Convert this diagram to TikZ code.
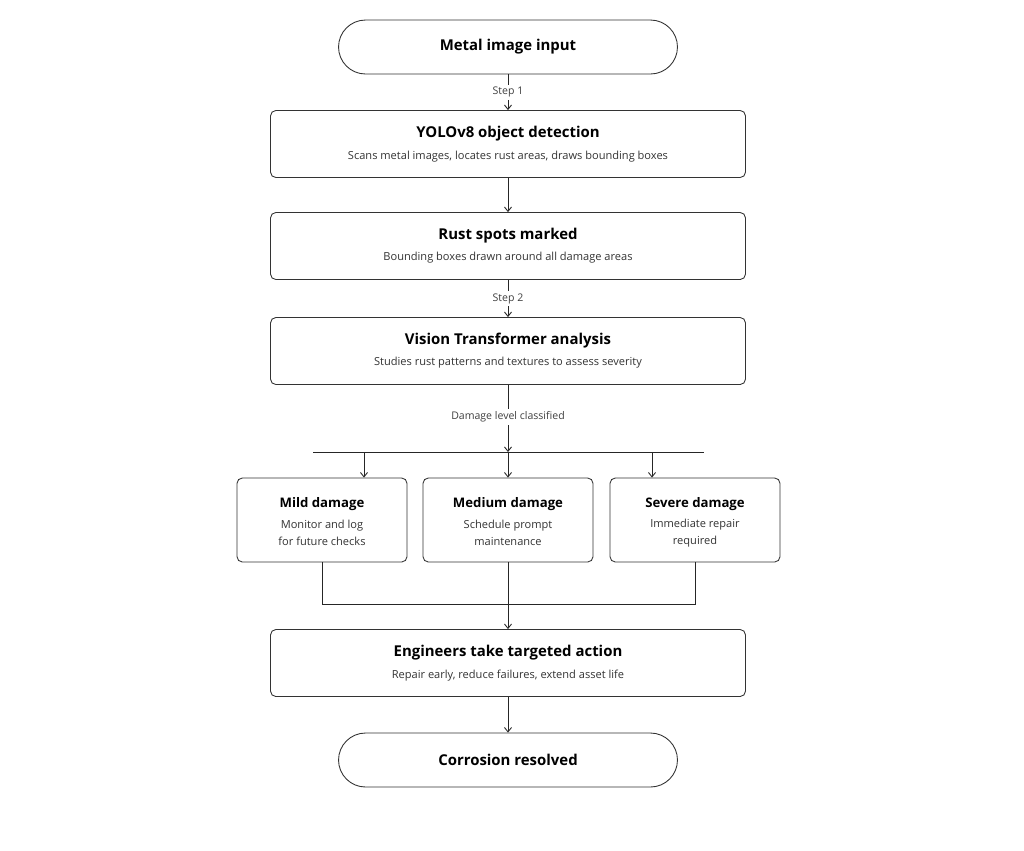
\documentclass[tikz,border=0pt]{standalone}
\usepackage{fontspec}
\setmainfont{Open Sans}
\usetikzlibrary{arrows.meta,positioning}
\begin{document}
\begin{tikzpicture}[x=0.02cm,y=-0.02cm,
    line width=0.5pt, >={Straight Barb[length=2.5pt,width=4pt]}]
        % Define styles
        \tikzset{
          terminal/.style={rectangle, rounded corners=0.54cm, draw=black!80, minimum width=6.78cm, minimum height=1.08cm, font=\fontsize{8.5pt}{10pt}\selectfont\bfseries},
          process/.style={rectangle, rounded corners=3pt, draw=black!80, minimum width=9.5cm, minimum height=1.34cm},
          damage/.style={rectangle, rounded corners=3pt, draw=black!80, minimum width=3.4cm, minimum height=1.68cm},
          title/.style={font=\fontsize{8.5pt}{10pt}\selectfont\bfseries},
          smalltitle/.style={font=\fontsize{7.5pt}{10pt}\selectfont\bfseries},
          sub/.style={font=\fontsize{6.3pt}{10pt}\selectfont, text=black!80, align=center},
          steplabel/.style={fill=white, inner sep=1.5pt, font=\fontsize{6pt}{7pt}\selectfont, text=black!75},
          arrow/.style={->, draw=black!85},
          line/.style={draw=black!85}
        }
        \useasboundingbox (0,0) rectangle (1024,850);

        % Nodes
        \node [terminal] (input) at (508,47) {Metal image input};
        \node [process] (yolo) at (508,144) {};
        \node [title] at (508,134) {YOLOv8 object detection};
        \node [sub] at (508,157) {Scans metal images, locates rust areas, draws bounding boxes};
        \node [process] (marked) at (508,246) {};
        \node [title] at (508,236) {Rust spots marked};
        \node [sub] at (508,258) {Bounding boxes drawn around all damage areas};
        \node [process] (vit) at (508,351) {};
        \node [title] at (508,341) {Vision Transformer analysis};
        \node [sub] at (508,363) {Studies rust patterns and textures to assess severity};

        \node [damage] (mild) at (322,520) {};
        \node [damage] (medium) at (508,520) {};
        \node [damage] (severe) at (695,520) {};
        \node [smalltitle] at (322,504) {Mild damage};
        \node [smalltitle] at (508,504) {Medium damage};
        \node [smalltitle] at (695,504) {Severe damage};
        \node [sub] at (322,533) {Monitor and log\\for future checks};
        \node [sub] at (508,533) {Schedule prompt\\maintenance};
        \node [sub] at (695,533) {Immediate repair\\required};

        \node [process] (action) at (508,663) {};
        \node [title] at (508,653) {Engineers take targeted action};
        \node [sub] at (508,676) {Repair early, reduce failures, extend asset life};
        \node [terminal] (resolved) at (508,760) {Corrosion resolved};

        % Bus coordinates
        \coordinate (split) at (508,452);
        \coordinate (busL) at (313,452);
        \coordinate (busR) at (704,452);
        \coordinate (merge) at (508,604);

        % Arrows
        \draw [arrow] (input) -- node [steplabel] {Step 1} (yolo);
        \draw [arrow] (yolo) -- (marked);
        \draw [arrow] (marked) -- node [steplabel] {Step 2} (vit);
        \draw [arrow] (vit) -- node [steplabel, pos=0.48] {Damage level classified} (split);
        \draw [line] (busL) -- (busR);
        \draw [arrow] (busL -| 364,0) -- (mild.north -| 364,0);
        \draw [arrow] (split) -- (medium);
        \draw [arrow] (busR -| 652,0) -- (severe.north -| 652,0);
        \draw [line] (mild) |- (merge) -| (severe);
        \draw [line] (medium) -- (merge);
        \draw [arrow] (merge) -- (action);
        \draw [arrow] (action) -- (resolved);
    \end{tikzpicture}
\end{document}
